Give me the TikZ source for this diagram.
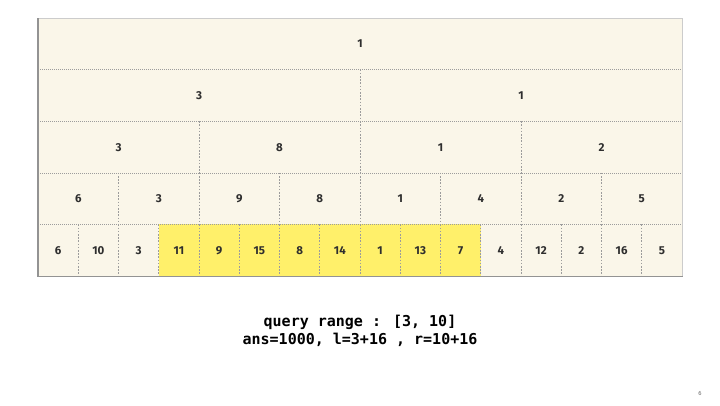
\documentclass[tikz,border=0pt]{standalone}
\usepackage{fontspec}
\newfontfamily\cellfont{Fira Sans}[Numbers=Lining]
\newfontfamily\codefont{DejaVu Sans Mono}
\definecolor{segcream}{HTML}{FAF6E9}
\definecolor{segyellow}{HTML}{FFF06A}
\definecolor{seggrid}{HTML}{9C9C9C}
\definecolor{segtext}{HTML}{2E2E2E}

\begin{document}
\begin{tikzpicture}[x=1pt,y=-1pt,
    cell/.style={minimum height=51.6pt,inner sep=0pt,outer sep=0pt,
      text height=8pt,text depth=0pt,
      font=\cellfont\bfseries\fontsize{11.5}{13}\selectfont,text=segtext},
    vline/.style={seggrid,line width=0.9pt,dash pattern=on 1.6pt off 1.6pt},
    hline/.style={seggrid,line width=0.6pt,dash pattern=on 1pt off 1pt}]
  \useasboundingbox (0,0) rectangle (720,405);
  % tree rows, root on top
  \foreach \r/\vals in {0/{1},1/{3,1},2/{3,8,1,2},3/{6,3,9,8,1,4,2,5},
      4/{6,10,3,11,9,15,8,14,1,13,7,4,12,2,16,5}} {
    \pgfmathsetmacro\w{644/2^\r}
    \foreach \v [count=\i from 0] in \vals {
      \pgfmathsetmacro\hit{(\r==4 && \i>2 && \i<11) ? 1 : 0}
      \ifdim\hit pt>0.5pt \def\cellcol{segyellow}\else\def\cellcol{segcream}\fi
      \node[cell,fill=\cellcol,minimum width=\w pt] (c-\r-\i)
        at ({38+(\i+0.5)*\w},{18+(\r+0.5)*51.6}) {\v};
    }
  }
  % dividers
  \foreach \r in {1,...,4}
    \draw[hline] (38,{18+\r*51.6}) -- (682,{18+\r*51.6});
  \foreach \r in {1,...,4} {
    \pgfmathtruncatemacro\n{2^\r-2}
    \foreach \k in {0,...,\n}
      \draw[vline] (c-\r-\k.north east) -- (c-\r-\k.south east);
  }
  % frame
  \draw[gray!40,line width=0.8pt] (38,276) -- (682,276) -- (682,18) -- (38,18);
  \draw[gray!85,line width=1.4pt] (38,18) -- (38,276.5) -- (682.5,276.5);
  % query text
  \node[font=\codefont\bfseries\fontsize{15}{18}\selectfont,align=center] (query)
    at (360,331) {query range : [3, 10]\\ans=1000, l=3+16 , r=10+16};
  \node[font=\cellfont\fontsize{6}{7}\selectfont,text=gray!80!black] (page) at (700,393) {6};
\end{tikzpicture}
\end{document}
